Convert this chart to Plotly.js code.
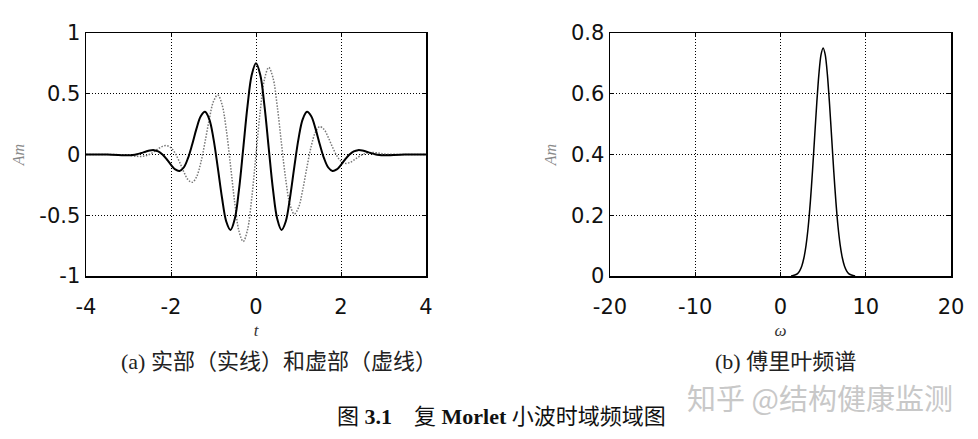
<!DOCTYPE html>
<html>
<head>
<meta charset="utf-8">
<script src="https://cdn.plot.ly/plotly-3.0.1.min.js"></script>
<style>html,body{margin:0;padding:0;background:#fff;}#chart{width:978px;height:439px;}</style>
</head>
<body>
<div id="chart"></div>
<script>
// Time axis samples (t)
const tVals = [-4,-3.5,-3,-2.9,-2.8,-2.7,-2.6,-2.5,-2.4,-2.3,-2.2,-2.1,-2,-1.9,-1.8,-1.7,-1.6,-1.5,-1.4,-1.3,-1.2,-1.1,-1,-0.9,-0.8,-0.7,-0.6,-0.5,-0.4,-0.3,-0.2,-0.1,
  0,0.1,0.2,0.3,0.4,0.5,0.6,0.7,0.8,0.9,1,1.1,1.2,1.3,1.4,1.5,1.6,1.7,1.8,1.9,2,2.1,2.2,2.3,2.4,2.5,2.6,2.7,2.8,2.9,3,3.5,4];
// Real part (solid line)
const realPart = [0,0,-0.006,-0.004,0.002,0.012,0.023,0.033,0.036,0.026,0.000,-0.039,-0.085,-0.123,-0.135,-0.107,-0.030,0.085,0.213,0.315,0.351,0.291,0.129,-0.106,-0.356,-0.551,-0.621,-0.531,-0.289,0.051,0.398,0.656,
  0.751,0.656,0.398,0.051,-0.289,-0.531,-0.621,-0.551,-0.356,-0.106,0.129,0.291,0.351,0.315,0.213,0.085,-0.030,-0.107,-0.135,-0.123,-0.085,-0.039,0.000,0.026,0.036,0.033,0.023,0.012,0.002,-0.004,-0.006,0,0];
// Imaginary part (dotted line)
const imagPart = [0,0,-0.005,-0.011,-0.015,-0.016,-0.011,0.002,0.023,0.047,0.067,0.073,0.055,0.009,-0.061,-0.141,-0.207,-0.229,-0.185,-0.069,0.102,0.289,0.437,0.490,0.413,0.206,-0.089,-0.397,-0.631,-0.716,-0.620,-0.358,
  0,0.358,0.620,0.716,0.631,0.397,0.089,-0.206,-0.413,-0.490,-0.437,-0.289,-0.102,0.069,0.185,0.229,0.207,0.141,0.061,-0.009,-0.055,-0.073,-0.067,-0.047,-0.023,-0.002,0.011,0.016,0.015,0.011,0.005,0,0];
// Frequency axis samples (omega) and spectrum amplitude
const omegaVals = [1.25,1.5,1.75,2,2.25,2.5,2.75,3,3.25,3.5,3.75,4,4.25,4.5,4.75,5,5.25,5.5,5.75,6,6.25,6.5,6.75,7,7.25,7.5,7.75,8,8.25,8.5,8.75];
const spectrum = [0,0.002,0.004,0.008,0.017,0.033,0.060,0.102,0.162,0.244,0.344,0.456,0.567,0.663,0.728,0.751,0.728,0.663,0.567,0.456,0.344,0.244,0.162,0.102,0.060,0.033,0.017,0.008,0.004,0.002,0];
// Tick labels
const leftXTicks = [-4,-2,0,2,4];
const leftYTicks = [-1,-0.5,0,0.5,1];
const rightXTicks = [-20,-10,0,10,20];
const rightYTicks = [0,0.2,0.4,0.6,0.8];

const NB = '\u00a0';
const subtitleA = '(a)' + NB + '实部（实线）和虚部（虚线）';
const subtitleB = '(b)' + NB + '傅里叶频谱';
const caption = '图' + NB + '<b>3.1</b>' + NB + NB + NB + NB + '复' + NB + '<b>Morlet</b>' + NB + '小波时域频域图';
const watermark = '知乎' + NB + '@结构健康监测';

const traces = [
  {x: tVals, y: imagPart, type: 'scatter', mode: 'lines', name: '虚部',
   line: {color: '#777777', width: 1.5, dash: '1.5px,1.5px', shape: 'spline', smoothing: 1}, xaxis: 'x', yaxis: 'y'},
  {x: tVals, y: realPart, type: 'scatter', mode: 'lines', name: '实部',
   line: {color: '#000', width: 2, shape: 'spline', smoothing: 1}, xaxis: 'x', yaxis: 'y'},
  {x: omegaVals, y: spectrum, type: 'scatter', mode: 'lines', name: '频谱',
   line: {color: '#000', width: 1.5, shape: 'spline', smoothing: 0.8}, xaxis: 'x2', yaxis: 'y2'}
];

const tickFont = {family: 'DejaVu Sans, Arial, sans-serif', size: 21, color: '#111'};
function axisBase(extra) {
  return Object.assign({
    showline: true, linecolor: '#000', linewidth: 1.5, mirror: 'ticks',
    ticks: 'inside', ticklen: 4, tickcolor: '#000', tickwidth: 1,
    showgrid: true, gridcolor: '#000', gridwidth: 1, griddash: '1px,2px',
    zeroline: false, tickfont: tickFont, automargin: false, fixedrange: true
  }, extra);
}

const layout = {
  width: 978, height: 439,
  margin: {l: 0, r: 0, t: 0, b: 0},
  paper_bgcolor: '#fff', plot_bgcolor: '#fff',
  showlegend: false,
  xaxis: axisBase({domain: [86/978, 426/978], range: [-4, 4], tickmode: 'array', tickvals: leftXTicks,
    ticktext: leftXTicks.map(String), anchor: 'y', ticklabelstandoff: 11,
    title: {text: 't', standoff: 6, font: {family: 'Liberation Serif, serif', size: 17, style: 'italic', color: '#333'}}}),
  yaxis: axisBase({domain: [163/439, 406/439], range: [-1, 1], tickmode: 'array', tickvals: leftYTicks,
    ticktext: leftYTicks.map(String), anchor: 'x',
    title: {text: 'Am', standoff: 10, font: {family: 'Liberation Serif, serif', size: 16, style: 'italic', color: '#8a8a8a'}}}),
  xaxis2: axisBase({domain: [610/978, 951/978], range: [-20, 20], tickmode: 'array', tickvals: rightXTicks,
    ticktext: rightXTicks.map(String), anchor: 'y2', ticklabelstandoff: 11,
    title: {text: 'ω', standoff: 6, font: {family: 'Liberation Serif, serif', size: 17, style: 'italic', color: '#333'}}}),
  yaxis2: axisBase({domain: [163/439, 406/439], range: [0, 0.8], tickmode: 'array', tickvals: rightYTicks,
    ticktext: rightYTicks.map(String), anchor: 'x2',
    title: {text: 'Am', standoff: 10, font: {family: 'Liberation Serif, serif', size: 16, style: 'italic', color: '#8a8a8a'}}}),
  annotations: [
    {text: subtitleA, xref: 'paper', yref: 'paper', x: 279/978, y: 1 - 361/439, xanchor: 'center', yanchor: 'middle',
     showarrow: false, font: {family: 'Liberation Serif, Noto Sans CJK SC, serif', size: 22, color: '#222'}},
    {text: subtitleB, xref: 'paper', yref: 'paper', x: 785/978, y: 1 - 361/439, xanchor: 'center', yanchor: 'middle',
     showarrow: false, font: {family: 'Liberation Serif, Noto Sans CJK SC, serif', size: 22, color: '#222'}},
    {text: caption, xref: 'paper', yref: 'paper', x: 501/978, y: 1 - 416/439, xanchor: 'center', yanchor: 'middle',
     showarrow: false, font: {family: 'Liberation Serif, Noto Sans CJK SC, serif', size: 22, color: '#111'}},
    {text: watermark, xref: 'paper', yref: 'paper', x: 820/978, y: 1 - 397/439, xanchor: 'center', yanchor: 'middle',
     showarrow: false, font: {family: 'Noto Sans CJK SC, sans-serif', size: 29, color: '#c8c8c8'}}
  ]
};

Plotly.newPlot('chart', traces, layout, {staticPlot: true, displayModeBar: false});
</script>
</body>
</html>
